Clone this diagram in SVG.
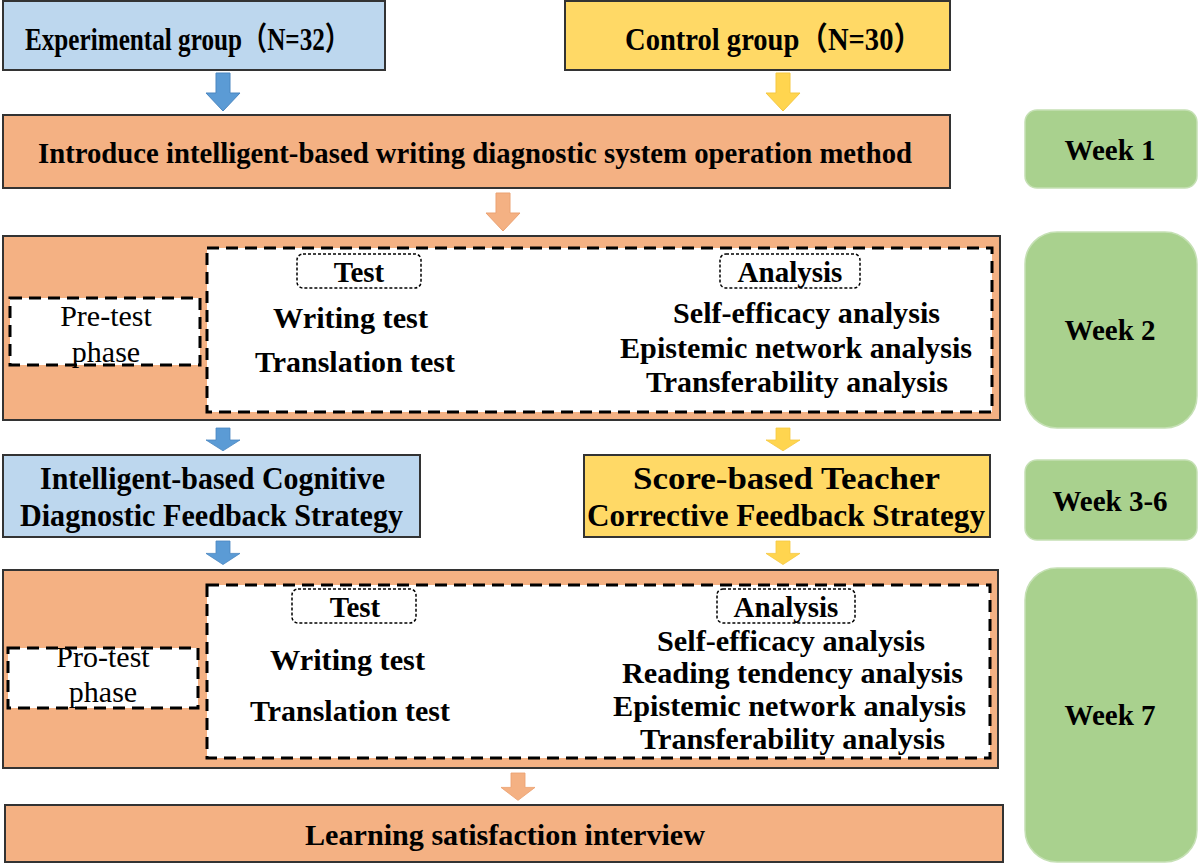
<svg xmlns="http://www.w3.org/2000/svg" width="1200" height="864" viewBox="0 0 1200 864">
<style>
.t{font-family:"Liberation Serif","Times New Roman","Noto Sans CJK SC",serif;font-weight:bold;font-size:29px;fill:#000;}
.big{font-size:32px;}
.mid{font-size:31px;}
.r{font-family:"Liberation Serif","Times New Roman",serif;font-size:30px;fill:#000;}
.box{stroke:#333;stroke-width:2;}
.blue{fill:#BDD7EE;}
.yel{fill:#FFD966;}
.ora{fill:#F4B183;}
.grn{fill:#A9D18E;stroke:#C5E0B4;stroke-width:1.5;}
.dash{fill:#fff;stroke:#000;stroke-width:3;stroke-dasharray:12 7;}
.dot{fill:#fff;stroke:#000;stroke-width:1.5;stroke-dasharray:3 2;}
.ab{fill:#5B9BD5;stroke:#4A86C0;stroke-width:1;}
.ay{fill:#FFD54F;stroke:#F5C842;stroke-width:1;}
.ao{fill:#F4B183;stroke:#EBA272;stroke-width:1;}
</style>
<defs>
<path id="arr" d="M-7,0 H7 V20 H17 L0,38 L-17,20 H-7 Z"/>
</defs>
<g id="connectors">
<use href="#arr" class="ab" transform="translate(223,73)"/>
<use href="#arr" class="ay" transform="translate(783,73)"/>
<use href="#arr" class="ao" transform="translate(503,193)"/>
<use href="#arr" class="ab" transform="translate(223,428) scale(1,0.6)"/>
<use href="#arr" class="ay" transform="translate(783,428) scale(1,0.6)"/>
<use href="#arr" class="ab" transform="translate(223,541) scale(1,0.62)"/>
<use href="#arr" class="ay" transform="translate(783,541) scale(1,0.62)"/>
<use href="#arr" class="ao" transform="translate(518,773) scale(1,0.72)"/>
</g>
<g id="experimental">
<rect class="box blue" x="3" y="1" width="382" height="69"/>
<text class="t big" x="25" y="50" textLength="325" lengthAdjust="spacingAndGlyphs">Experimental group（N=32）</text>
</g>
<g id="control">
<rect class="box yel" x="565" y="1" width="385" height="69"/>
<text class="t big" x="625" y="50" textLength="297" lengthAdjust="spacingAndGlyphs">Control group（N=30）</text>
</g>
<g id="introduce">
<rect class="box ora" x="3" y="115" width="947" height="73"/>
<text class="t" x="38" y="163" textLength="874" lengthAdjust="spacingAndGlyphs">Introduce intelligent-based writing diagnostic system operation method</text>
</g>
<g id="week1">
<rect class="grn" x="1025" y="110" width="172" height="78" rx="12"/>
<text class="t" x="1110" y="160" text-anchor="middle">Week 1</text>
</g>
<g id="pretest">
<rect class="box ora" x="3" y="236" width="997" height="184"/>
<rect class="dash" x="207" y="248" width="785" height="164"/>
<rect class="dash" x="10" y="298" width="190" height="67"/>
<text class="r" x="106" y="326" text-anchor="middle">Pre-test</text>
<text class="r" x="106" y="362" text-anchor="middle">phase</text>
<rect class="dot" x="297" y="254" width="124" height="34" rx="6"/>
<text class="t" x="359" y="282" text-anchor="middle">Test</text>
<rect class="dot" x="720" y="254" width="140" height="34" rx="6"/>
<text class="t" x="790" y="282" text-anchor="middle">Analysis</text>
<text class="t" x="273" y="328" textLength="155" lengthAdjust="spacingAndGlyphs">Writing test</text>
<text class="t" x="255" y="372" textLength="200" lengthAdjust="spacingAndGlyphs">Translation test</text>
<text class="t" x="673" y="323" textLength="267" lengthAdjust="spacingAndGlyphs">Self-efficacy analysis</text>
<text class="t" x="620" y="358" textLength="352" lengthAdjust="spacingAndGlyphs">Epistemic network analysis</text>
<text class="t" x="646" y="392" textLength="302" lengthAdjust="spacingAndGlyphs">Transferability analysis</text>
</g>
<g id="week2">
<rect class="grn" x="1025" y="232" width="172" height="196" rx="32"/>
<text class="t" x="1110" y="340" text-anchor="middle">Week 2</text>
</g>
<g id="exp-strategy">
<rect class="box blue" x="3" y="455" width="417" height="82"/>
<text class="t mid" x="40" y="489" textLength="345" lengthAdjust="spacingAndGlyphs">Intelligent-based Cognitive</text>
<text class="t mid" x="20" y="526" textLength="383" lengthAdjust="spacingAndGlyphs">Diagnostic Feedback Strategy</text>
</g>
<g id="ctrl-strategy">
<rect class="box yel" x="584" y="455" width="406" height="82"/>
<text class="t mid" x="633" y="489" textLength="307" lengthAdjust="spacingAndGlyphs">Score-based Teacher</text>
<text class="t mid" x="587" y="526" textLength="398" lengthAdjust="spacingAndGlyphs">Corrective Feedback Strategy</text>
</g>
<g id="week3-6">
<rect class="grn" x="1025" y="460" width="172" height="80" rx="12"/>
<text class="t" x="1110" y="511" text-anchor="middle">Week 3-6</text>
</g>
<g id="protest">
<rect class="box ora" x="3" y="570" width="995" height="198"/>
<rect class="dash" x="207" y="585" width="783" height="173"/>
<rect class="dash" x="8" y="648" width="190" height="60"/>
<text class="r" x="103" y="667" text-anchor="middle">Pro-test</text>
<text class="r" x="103" y="702" text-anchor="middle">phase</text>
<rect class="dot" x="292" y="589" width="124" height="34" rx="6"/>
<text class="t" x="355" y="617" text-anchor="middle">Test</text>
<rect class="dot" x="717" y="589" width="138" height="34" rx="6"/>
<text class="t" x="786" y="617" text-anchor="middle">Analysis</text>
<text class="t" x="270" y="670" textLength="155" lengthAdjust="spacingAndGlyphs">Writing test</text>
<text class="t" x="250" y="721" textLength="200" lengthAdjust="spacingAndGlyphs">Translation test</text>
<text class="t" x="657" y="651" textLength="268" lengthAdjust="spacingAndGlyphs">Self-efficacy analysis</text>
<text class="t" x="622" y="683" textLength="341" lengthAdjust="spacingAndGlyphs">Reading tendency analysis</text>
<text class="t" x="613" y="716" textLength="353" lengthAdjust="spacingAndGlyphs">Epistemic network analysis</text>
<text class="t" x="640" y="749" textLength="305" lengthAdjust="spacingAndGlyphs">Transferability analysis</text>
</g>
<g id="week7">
<rect class="grn" x="1025" y="568" width="172" height="294" rx="32"/>
<text class="t" x="1110" y="725" text-anchor="middle">Week 7</text>
</g>
<g id="interview">
<rect class="box ora" x="5" y="805" width="998" height="57"/>
<text class="t" x="305" y="845" textLength="400" lengthAdjust="spacingAndGlyphs">Learning satisfaction interview</text>
</g>
</svg>
